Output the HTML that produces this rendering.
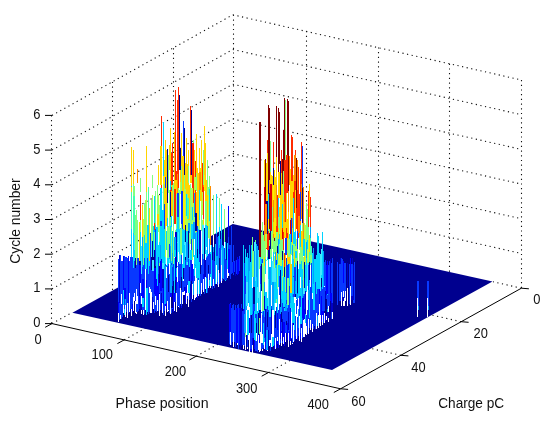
<!DOCTYPE html>
<html><head><meta charset="utf-8"><title>Plot</title><style>html,body{margin:0;padding:0;background:#fff}</style></head><body><svg width="550" height="427" viewBox="0 0 550 427" style="display:block">
<rect width="550" height="427" fill="#fff"/>
<path d="M52 288.9L232.8 188.3M232.8 188.3L521.4 253.5M52 254.2L232.8 153.6M232.8 153.6L521.4 218.8M52 219.5L232.8 118.9M232.8 118.9L521.4 184.1M52 184.8L232.8 84.2M232.8 84.2L521.4 149.4M52 150.1L232.8 49.5M232.8 49.5L521.4 114.7M52 115.4L232.8 14.8M232.8 14.8L521.4 80M51.5 115.4L51.5 323.6M112.5 81.9L112.5 290.1M173.5 48.3L173.5 256.5M233.5 14.8L233.5 223M306.5 31.1L306.5 239.3M378.5 47.4L378.5 255.6M449.5 63.7L449.5 271.9M521.5 80L521.5 288.2M124.2 339.9L305 239.3M196.3 356.2L377.1 255.6M268.5 372.5L449.3 271.9M52 323.6L71.5 312.8M400.9 355.3L112.3 290.1M461.1 321.7L172.5 256.5M521.4 288.2L493 281.8" fill="none" stroke="#111" stroke-width="1.1" stroke-dasharray="1.2 3.5"/>
<polygon points="72.4,312.7 332,370 492.5,281.5 232.8,224" fill="#00008f"/>
<g fill="none" stroke-width="1" shape-rendering="crispEdges"><path d="M118.5 258.9V301.7M119.5 303.2V314.6M119.5 314.6V319.8M120.5 255.2V306M121.5 260.9V293.9M121.5 303.5V318.8M122.5 260.9V317.1M124.5 256.2V287.9M124.5 298.8V309.4M125.5 257.1V295.9M126.5 257.1V302.5M126.5 302.5V311.6M128.5 302.5V312.8M129.5 260.8V291.9M129.5 291.9V292.9M130.5 256.9V288.1M130.5 288.1V308.6M131.5 261.4V265.5M131.5 289V295.3M132.5 256.9V303.8M133.5 268V292.5M133.5 292.5V296.9M134.5 260.9V283.5M135.5 267.6V281.7M135.5 281.7V299.6M136.5 265.3V288.9M136.5 303.7V312.1M137.5 258V276.4M137.5 284.7V295.9M138.5 258.2V310.9M140.5 268.2V277.6M140.5 293V304.1M141.5 273.8V293.4M142.5 266.8V279.3M142.5 306.9V310.4M143.5 265.2V279.2M143.5 290V304.8M144.5 258.3V286.9M144.5 286.9V297.6M144.5 297.6V310M144.5 310V314.1M146.5 257.5V279.5M147.5 274.4V284M147.5 284V292.3M148.5 254.3V266.2M148.5 266.2V292.8M148.5 292.8V314.1M149.5 265.6V286.8M150.5 233.2V289M151.5 270.4V291.9M152.5 270.7V296.5M153.5 262.6V278.6M153.5 278.6V301M153.5 301V302.2M154.5 294.2V304.7M154.5 304.7V313M155.5 228.9V265.8M156.5 286V312.3M157.5 264.2V273.9M158.5 257.3V268.3M158.5 282.9V292.5M158.5 292.5V310.7M160.5 220.9V226.4M160.5 290.6V310.1M161.5 274.3V293.1M162.5 288.3V303.3M163.5 258.9V267.7M163.5 267.7V279.8M163.5 303.6V314.7M164.5 203.7V229.1M164.5 304.2V310.5M165.5 176.5V187.7M165.5 263.9V275.4M166.5 278.3V293.2M166.5 293.2V302.9M167.5 265.8V287.4M167.5 287.4V301M168.5 243.7V256.6M168.5 263.7V275.2M168.5 292.1V309.5M169.5 274.4V302.3M169.5 302.3V313M171.5 263.4V285.5M171.5 308.3V312.5M172.5 266.8V286.3M172.5 286.3V309.1M173.5 263.8V280.5M175.5 292.6V301.7M176.5 241.6V260.8M176.5 289.9V292.5M177.5 192.5V216.6M177.5 282.1V305.7M178.5 261.9V281.3M179.5 263.8V287.5M179.5 287.5V308.1M181.5 190.8V224.1M181.5 255.1V263.7M181.5 263.7V276.7M181.5 290.1V306.1M182.5 192.8V229.3M182.5 280.7V292.2M183.5 121V185.4M184.5 260.2V286.5M185.5 259.6V278.5M186.5 265.2V265.3M186.5 265.2V267.2M186.5 267.2V275.7M186.5 275.7V285.1M187.5 265.2V282.2M187.5 296.3V299.1M188.5 258.9V280.6M189.5 281V299.7M190.5 259.7V283.5M191.5 238.7V263.9M191.5 297.9V301.6M192.5 281.2V283.6M193.5 268.5V283.3M194.5 275.5V281.2M197.5 226.3V248.5M198.5 266V280M199.5 253.9V261.5M200.5 274.2V296.3M201.5 264.8V282.5M202.5 254.1V290.1M203.5 259.1V273.9M204.5 276.9V294.3M206.5 258.2V277.7M207.5 255.8V285.5M207.5 285.5V292.6M208.5 253.8V264.5M208.5 272.8V273.7M209.5 252.9V279.6M210.5 254.4V274.1M212.5 259.5V289.3M213.5 252V268.8M213.5 268.8V279M214.5 261V288.2M216.5 234.2V256.3M217.5 281.6V284.6M219.5 247.8V258.3M219.5 273.1V284.1M220.5 239.2V280.7M222.5 277.7V281.4M224.5 248.4V259.4M224.5 259.4V279.9M226.5 260V280.3M227.5 268.6V269.2M228.5 236.9V248.9M229.5 245.4V275.6M230.5 273.9V279.1M231.5 225.5V273.5M233.5 245.2V275M234.5 261.3V271.7M236.5 260.3V274.3M239.5 256.2V270.6M229.5 331.9V344M230.5 302.5V332M231.5 307.7V344.7M232.5 304.7V338.4M232.5 338.4V342.2M233.5 304.3V333.4M234.5 309.8V341.9M235.5 304.9V347.4M237.5 304.9V327.3M238.5 303.5V335.7M238.5 335.7V348.5M241.5 304.2V346.1M242.5 311.2V345.3M244.5 262.7V313.8M244.5 333V346M245.5 275.9V294.4M247.5 335V347.3M250.5 314.6V333.4M250.5 333.4V349.2M252.5 313.7V338.1M253.5 303.6V311.4M254.5 307.2V308.3M255.5 313.8V317.8M255.5 340.9V350.7M256.5 307.8V322.7M257.5 335V352.3M260.5 266.3V283.8M260.5 316.2V330.2M260.5 330.2V331.7M261.5 311.6V312.6M261.5 343.3V348.5M262.5 255.9V263.4M262.5 315.2V333.6M263.5 310.2V323.1M263.5 344.8V348.4M264.5 317.1V337.9M266.5 306.3V311.9M266.5 311.9V329.9M267.5 326.7V336.4M268.5 309.6V330M269.5 317V339.7M270.5 306.9V309.1M270.5 342.9V350.9M271.5 305.5V326.4M274.5 314.5V344.7M275.5 327.8V338M276.5 260.2V272.2M276.5 307V319.5M276.5 319.5V340.8M277.5 330.1V336.6M278.5 309.5V343.5M279.5 243.6V244.3M279.5 276.3V294.6M279.5 304.1V319.3M279.5 329.9V330.4M280.5 338.8V342.6M281.5 321.7V331.2M282.5 302.8V318.5M282.5 340.8V343M283.5 307V322M284.5 310.8V325.5M285.5 237.8V255.4M285.5 310.9V325.3M285.5 325.3V332.5M286.5 258V293.1M286.5 300V320.7M287.5 265.3V277.7M287.5 307.9V323.2M288.5 264.2V267.9M288.5 285.8V311.6M288.5 330V332.6M289.5 302.8V330.5M290.5 335.3V336.4M291.5 218V241.7M291.5 338.4V339.1M292.5 137V167.9M292.5 322.8V342.6M293.5 275.5V296.8M294.5 267.2V280.7M294.5 329.9V340.8M295.5 316.3V336M296.5 300.4V314.2M297.5 230.5V248.6M297.5 293.1V305.7M297.5 316.5V337.8M298.5 327.9V335.8M299.5 295.6V306.8M299.5 306.8V316.2M300.5 192.4V220.8M300.5 324.2V332.5M301.5 289.7V300.2M301.5 300.2V321.6M302.5 146V187.6M302.5 317.7V337.6M303.5 296V317.5M304.5 287.6V309.3M306.5 315.2V325.7M307.5 310.3V332.8M308.5 264.8V290.3M308.5 300.3V308.7M308.5 308.7V319.4M309.5 317.5V328M310.5 287.4V312.7M310.5 312.7V320.2M311.5 245.7V298.9M311.5 298.9V323.8M312.5 309.1V317.2M313.5 310V328.7M314.5 305.2V318.5M315.5 281.6V304.2M315.5 304.2V329.1M316.5 293.7V313.4M317.5 289V315.5M318.5 289V312.2M319.5 253.3V285.9M320.5 290.8V313.1M320.5 313.1V315M321.5 286.7V296.2M322.5 289V300.9M322.5 300.9V311M323.5 286.7V310.6M323.5 310.6V322.7M324.5 262.4V285.9M325.5 260.2V290.5M326.5 295.1V309M328.5 265.2V305.8M329.5 261.4V288.2M331.5 263.1V290.9M331.5 290.9V302.9M331.5 311.5V318.6M332.5 257.7V289.5M332.5 289.5V305.1M337.5 262.4V305.3M339.5 263.9V301.3M341.5 257.9V292M342.5 259.2V296.9M343.5 283.3V290.9M344.5 262.5V298.1M345.5 262.5V290.5M345.5 290.5V290.5M349.5 263.7V303.6M351.5 263.8V296.3M353.5 264.5V302.6M354.5 262.3V303.3M417.5 281V298M418.5 281V306M427.5 281V298M428.5 281V306" stroke="#0838ff"/><path d="M118.5 301.7V312.5M123.5 255.5V290M124.5 287.9V298.8M127.5 258.4V289.8M128.5 256.4V302.5M132.5 303.8V311.5M135.5 299.6V300.8M139.5 264.8V283M139.5 295.5V309.3M141.5 293.4V295.7M142.5 279.3V298.3M146.5 279.5V287.9M154.5 268.2V294.2M155.5 279V295.9M157.5 273.9V299.5M160.5 261.4V290.6M161.5 258.8V274.3M163.5 279.8V303.6M165.5 290.4V305.7M166.5 302.9V309M170.5 293.4V296.8M173.5 290V311.6M174.5 292.7V301.9M175.5 268V280.4M176.5 276.7V289.9M178.5 281.3V288.3M181.5 306.1V308.3M185.5 278.5V302.6M186.5 285.1V293.4M191.5 263.9V281.1M195.5 297.5V298.6M197.5 293.5V297.5M203.5 273.9V278.5M220.5 280.7V281.6M228.5 206.3V236.9M228.5 248.9V273.1M232.5 261.6V272.8M237.5 257.4V274.9M238.5 259.1V273.6M229.5 304.1V331.9M236.5 308.3V343M239.5 308.2V345.1M243.5 308.9V335.8M249.5 318.4V332.7M250.5 349.2V351.2M251.5 340.2V351.4M252.5 338.1V345M253.5 311.4V336.2M254.5 340.1V349.2M259.5 333.9V343.2M265.5 336.9V350.2M274.5 344.7V348.6M276.5 340.8V347.7M277.5 312.8V330.1M278.5 343.5V348M280.5 313.7V338.8M281.5 331.2V333.2M283.5 322V336.8M284.5 325.5V345.7M287.5 323.2V340.4M289.5 330.5V341.4M290.5 308.2V335.3M295.5 336V338.5M297.5 337.8V339.7M300.5 332.5V338.8M302.5 298.3V317.7M303.5 317.5V319.8M304.5 309.3V319.2M311.5 323.8V328.2M318.5 312.2V315.3M319.5 285.9V303.7M321.5 296.2V322M322.5 311V315.4M325.5 316V321M326.5 265.1V295.1M327.5 260.6V294.3M329.5 288.2V301.4M330.5 292.9V302.5M343.5 260.5V283.3M350.5 257.7V283.3" stroke="#0000ff"/><path d="M118.5 312.5V322.1M120.5 306V318.6M121.5 293.9V303.5M123.5 305.1V312.6M125.5 305.2V316.9M127.5 289.8V306.8M127.5 306.8V317.5M129.5 292.9V311.5M131.5 265.5V289M131.5 295.3V315.6M133.5 296.9V311.2M134.5 283.5V301M135.5 300.8V313.4M136.5 288.9V303.7M136.5 312.1V314.4M137.5 182.8V220.4M137.5 295.9V312.2M140.5 192V194.5M140.5 261.4V268.2M140.5 277.6V293M141.5 295.7V314.3M143.5 279.2V290M143.5 304.8V315.2M145.5 268.5V291.5M145.5 291.5V310.1M147.5 292.3V312.2M149.5 286.8V291.6M149.5 291.6V311.7M150.5 289V313.2M151.5 291.9V312.9M152.5 187.9V194.8M153.5 302.2V309.2M155.5 295.9V311M157.5 252V264.2M157.5 299.5V311.3M158.5 184.6V194.6M158.5 232V244.9M158.5 268.3V282.9M159.5 294.2V294.8M159.5 294.8V315.6M160.5 184.6V187.5M161.5 222.7V239.4M162.5 303.3V313.4M163.5 220.3V223.3M165.5 305.7V316M166.5 189.6V190.6M166.5 192.6V231.1M166.5 250.2V264.6M166.5 266.9V278.3M167.5 301V311.8M168.5 193.4V226.4M168.5 309.5V310.5M169.5 170.1V189.7M169.5 262.9V274.4M170.5 296.8V314.4M172.5 192V230.5M174.5 223.5V236.5M174.5 256.7V258.3M174.5 301.9V311M175.5 218.2V230.2M176.5 292.5V311.8M177.5 261.7V265.6M177.5 266.5V282.1M178.5 251.8V261.9M178.5 288.3V307.2M179.5 170V189.5M180.5 194.1V227.7M180.5 262.1V264M180.5 264.9V292.3M180.5 292.3V303.7M182.5 253.2V264.2M182.5 292.2V303.6M183.5 279.3V295.2M184.5 291.3V303.1M186.5 293.4V304.4M187.5 282.2V296.3M188.5 293.4V306.5M190.5 182.6V184.4M190.5 224.5V249.7M191.5 182V188.2M192.5 259.6V281.2M192.5 283.6V299.1M193.5 256.6V268.5M194.5 232V255.3M194.5 281.2V300.1M195.5 267.8V297.5M196.5 191.3V191.9M196.5 278.3V296.7M198.5 280V295.9M200.5 200.8V232.8M201.5 230.8V264.8M201.5 282.5V293.5M202.5 192.4V220.4M203.5 278.5V292M204.5 191.3V227.9M205.5 253.8V275.3M205.5 275.3V288.7M206.5 229.8V250.1M208.5 237.8V253.8M208.5 273.7V288.2M210.5 244.6V251.6M210.5 276.6V288.3M213.5 235.3V246.8M213.5 279.1V286.4M216.5 265.2V284.2M218.5 269.6V287.1M221.5 264.5V282.5M224.5 242V248.4M227.5 269.2V278.3M228.5 273.1V276.2M230.5 332V344.5M233.5 333.4V347.1M237.5 327.3V344.8M243.5 335.8V348.9M245.5 336.8V350.1M246.5 309.6V322.1M246.5 322.1V335.3M247.5 305.7V309.9M247.5 347.3V348.6M248.5 303.2V313.4M248.5 324.5V340M249.5 307V318.4M249.5 332.7V352.3M252.5 276.6V287.6M252.5 345V352.8M256.5 332.7V351M257.5 303.2V311.4M258.5 335.2V350.3M259.5 269.3V291.8M259.5 343.2V351.8M260.5 310.7V313.2M260.5 331.7V351.3M261.5 291V311.6M261.5 312.6V343.3M262.5 333.6V350.8M263.5 272.8V296M264.5 341.5V348.8M265.5 273.9V292M266.5 248.7V259.8M266.5 261.1V306.3M267.5 202.2V230.5M267.5 260.2V298.3M267.5 336.4V350.7M268.5 232.6V244.9M269.5 256.6V267.1M269.5 339.7V346.4M270.5 259.2V299.2M270.5 333.8V342.9M271.5 199.7V229.6M271.5 285.4V305.5M271.5 334V347.1M272.5 249.3V261.2M272.5 309.6V337.2M273.5 309.3V334.1M273.5 334.1V346.2M274.5 253.9V255.9M275.5 298.8V311.1M275.5 338V349.4M276.5 302.7V303.2M276.5 302.7V307M277.5 336.6V344.3M278.5 287.3V309.5M279.5 164.2V206.5M279.5 294.6V304.1M279.5 319.3V329.9M279.5 330.4V345.2M281.5 333.2V346.1M283.5 336.8V344.2M284.5 238.4V253M285.5 332.5V342.1M286.5 245V258M287.5 183.8V218.6M287.5 304.7V305M288.5 332.6V347.4M289.5 184.8V233.5M289.5 249V260.4M290.5 336.4V345.3M291.5 255.2V268.1M291.5 296.5V306.6M291.5 311.7V338.4M292.5 342.6V343.9M293.5 325.4V342.4M294.5 212.8V234.9M294.5 280.7V302.5M295.5 296.9V316.3M296.5 228.8V239.3M296.5 298.7V300.4M296.5 314.2V321.1M296.5 321.1V339.3M297.5 305.7V316.5M298.5 238.4V255.3M298.5 255.3V268.5M298.5 297.8V309.4M299.5 249.8V253.1M299.5 316.2V332.1M299.5 332.1V341M300.5 277.2V288.1M301.5 218.7V230.7M301.5 327.9V341.5M303.5 256.2V266.3M303.5 319.8V337.1M304.5 319.2V337.2M305.5 322.6V333.7M306.5 292V315.2M306.5 325.7V335.3M307.5 286.1V310.3M308.5 319.4V334.3M309.5 216.7V235.1M310.5 262.8V263.2M310.5 265.4V287.4M310.5 320.2V330.3M312.5 292.5V309.1M312.5 320.1V332M314.5 318.5V326.2M316.5 313.4V329.4M318.5 315.3V327.6M319.5 303.7V323.2M320.5 315V325.7M322.5 315.4V324.9M324.5 285.9V304.2M324.5 312.7V323.4M326.5 309V320.4M328.5 305.8V321.8M330.5 302.5V319.4M332.5 305.1V318.6M341.5 292V305.7M343.5 290.9V306.1M344.5 298.1V305.5M345.5 290.5V300.6M347.5 287.7V305.6M350.5 286V305.4M417.5 298V317M427.5 298V317" stroke="#ffffff"/><path d="M119.5 255.3V303.2M128.5 312.8V315.1M137.5 276.4V284.7M139.5 283V295.5M140.5 304.1V309.8M152.5 296.5V312.7M161.5 293.1V311.9M162.5 268.8V288.3M175.5 231.6V268M184.5 286.5V291.3M189.5 266.7V281M190.5 283.5V298.7M199.5 229.9V253.9M200.5 232.8V264.8M203.5 226.2V242.1M204.5 260.3V276.9M213.5 279V279.1M230.5 245.1V273.9M235.5 260.1V276.4M240.5 307.6V348.5M259.5 309.6V318M263.5 296V310.2M265.5 309.4V336.9M268.5 330V346.7M270.5 309.1V333.8M282.5 318.5V340.8M284.5 294.8V307.6M288.5 311.6V330M293.5 296.8V325.4M301.5 321.6V327.9M304.5 277.7V287.6M305.5 291.4V314.2M312.5 317.2V320.1M325.5 290.5V299.1M327.5 311.7V318M330.5 259.4V292.9M331.5 302.9V311.5M340.5 257.5V300.5M342.5 296.9V300.5M347.5 263V287.7M351.5 296.3V300.2M352.5 257.7V300.4" stroke="#0000c8"/><path d="M123.5 290V305.1M124.5 309.4V314.7M131.5 185.7V187.2M131.5 228.7V260.6M133.5 232.8V268M134.5 250.1V260.9M140.5 231.5V261.4M142.5 298.3V306.9M144.5 234.9V258.3M145.5 243.4V268.5M146.5 223.8V257.5M146.5 287.9V314.5M147.5 225.4V274.4M148.5 228.5V254.3M149.5 261.4V265.6M152.5 230.7V234.3M153.5 225.8V256.7M154.5 195.7V222.5M155.5 224.9V228.9M156.5 226.7V286M157.5 227.7V252M158.5 244.9V257.3M159.5 242V263M160.5 187.5V220.9M160.5 226.4V244.9M161.5 205.6V219.4M161.5 239.4V258.8M162.5 209.7V262.9M163.5 122V176.3M163.5 223.3V238.6M164.5 229.1V265.5M166.5 231.1V250.2M167.5 217.6V227M167.5 257.5V265.8M168.5 256.6V261.7M168.5 261.7V263.7M169.5 225.9V245.8M170.5 180.5V189.6M170.5 263.3V265.4M171.5 216.3V226.5M171.5 260.7V261.3M171.5 261.4V263.4M172.5 230.5V252.7M174.5 250.2V256.7M174.5 258.3V292.7M176.5 229.2V241.6M176.5 260.8V276.7M177.5 216.6V231.8M177.5 243.1V261.7M179.5 229.3V253.9M180.5 228.3V229.2M180.5 264V264.9M182.5 229.3V253.2M182.5 264.2V280.7M183.5 244.8V262.7M183.5 262.7V267.9M184.5 225.2V242.4M184.5 256.9V260.2M185.5 220.3V225.3M186.5 193.7V216.1M186.5 230.6V242.4M186.5 262.2V265.2M186.5 265.3V264.9M188.5 233.1V254.9M188.5 280.6V293.4M189.5 258.9V266.7M190.5 249.7V259.7M191.5 224.2V238.7M192.5 202.8V219.6M193.5 239.2V256.6M194.5 255.3V264.6M194.5 264.6V264.3M194.5 265.2V275.5M195.5 265.9V267.8M196.5 232.3V245.4M196.5 245.4V265.9M196.5 265.9V278.3M197.5 258V277.7M198.5 229.4V266M199.5 189.8V219.9M199.5 261.5V294.1M203.5 242.1V259.1M205.5 224.9V247.2M205.5 247.2V253.8M206.5 277.7V292.8M207.5 252.8V255.8M209.5 188.7V220.9M209.5 279.6V286.2M210.5 251.6V254.4M210.5 274.1V276.6M211.5 244.5V285.8M215.5 244.2V283.7M216.5 194.3V234.2M219.5 227.1V244.8M221.5 203.8V232.5M221.5 247.5V250.1M225.5 241.7V281.1M227.5 242.9V268.6M243.5 244.8V287.2M243.5 287.2V308.9M245.5 248.7V275.9M246.5 256.6V281.6M247.5 252.5V305.7M247.5 309.9V335M249.5 270.9V307M250.5 261.5V314.6M251.5 245.3V277.7M251.5 293.3V311.8M254.5 281.3V307.2M254.5 308.3V340.1M255.5 277.2V313.8M255.5 317.8V340.9M256.5 286.6V306M256.5 306V305.4M257.5 245.6V279.6M258.5 297.7V312.9M260.5 257V266.3M262.5 311.1V312.1M263.5 323.1V344.8M265.5 259.3V273.9M265.5 292V309.4M267.5 257V260.2M267.5 298.3V308.5M268.5 194.3V219M268.5 258.9V278.6M268.5 305.9V309.6M269.5 306.3V317M271.5 255.5V255.4M271.5 255.4V255.3M271.5 256.9V285.4M272.5 337.2V346.8M273.5 252.2V261.8M274.5 281.7V292.5M274.5 292.5V303.4M274.5 313.4V314.5M275.5 265V298.8M277.5 253.4V263.9M277.5 289.4V312.8M278.5 198.2V216.9M278.5 265V287.3M279.5 230V243.9M279.5 257.6V276.3M280.5 265.6V270M281.5 265.4V298.7M282.5 203.7V227.7M282.5 259.7V276M282.5 290.9V302.8M283.5 277.1V307M284.5 307.6V310.8M285.5 291.9V303.8M286.5 242.4V245M287.5 305.1V307.9M288.5 267.9V285.8M289.5 233.5V249M289.5 260.4V295.5M290.5 237V254.1M290.5 292.8V308.2M291.5 268.1V296.5M292.5 255.8V276.9M292.5 276.9V293.7M292.5 297.1V322.8M293.5 198.4V231.8M293.5 231.8V244.4M293.5 258.9V275.5M294.5 302.5V329.9M295.5 231.3V246.2M295.5 251.1V258.4M295.5 263V280M296.5 264.5V294.1M298.5 268.5V297.8M299.5 224.8V236.8M299.5 263.6V295.6M300.5 231.4V247M300.5 261.1V277.2M300.5 288.1V324.2M301.5 260.3V289.7M302.5 240.7V256.6M302.5 269.4V280.2M303.5 238.5V256.2M305.5 264.6V291.4M305.5 314.2V322.6M306.5 258.3V268.2M306.5 268.2V292M307.5 239.8V248.8M308.5 252.4V264.8M309.5 283.4V317.5M312.5 253.1V292.5M313.5 283.5V310M314.5 258.9V305.2M315.5 259.2V281.6M316.5 254.9V293.7M317.5 233V289M318.5 236V289M321.5 275V278.3M322.5 232V289M327.5 294.3V311.7" stroke="#00d4ff"/><path d="M125.5 295.9V305.2M130.5 308.6V309.3M131.5 260.6V261.4M142.5 236.9V266.8M154.5 230.2V232.3M160.5 244.9V261.4M164.5 265.5V304.2M166.5 264.6V266.9M169.5 245.8V259.3M170.5 228.9V263.3M170.5 265.4V293.4M171.5 261.3V261.4M172.5 252.7V266.8M174.5 236.5V250.2M177.5 265.6V266.5M186.5 242.4V262.2M186.5 264.9V265.2M188.5 223V233.1M188.5 254.9V258.9M193.5 222.4V239.2M193.5 283.3V295.3M194.5 192.8V232M194.5 264.3V265.2M195.5 233.4V265.9M197.5 277.7V293.5M206.5 256.5V258.2M207.5 226V252.8M209.5 238.8V252.9M213.5 246.8V252M216.5 256.3V265.2M217.5 237.2V281.6M218.5 236.1V269.6M219.5 244.8V247.8M221.5 232.5V247.5M222.5 244.5V277.7M223.5 245.8V278.9M244.5 313.8V333M245.5 294.4V314.8M246.5 306.1V309.6M248.5 257.7V303.2M248.5 313.8V324.5M249.5 245.3V270.9M252.5 287.6V313.7M253.5 250.9V286.6M256.5 244.3V286.6M256.5 305.9V307.8M257.5 311.4V335M260.5 283.8V310.7M261.5 259V263.9M262.5 312.1V315.2M264.5 281.8V317.1M264.5 337.9V341.5M266.5 329.9V350M269.5 267.1V306.3M270.5 299.2V306.9M272.5 282.1V309.6M273.5 260.8V262.4M273.5 299.4V309.3M275.5 252.3V265M276.5 272.2V288.6M278.5 236.8V254.1M280.5 306.9V313.7M281.5 298.7V311.6M285.5 303.8V310.9M286.5 293.1V300M287.5 304.8V304.7M287.5 305V305.1M289.5 295.5V302.8M292.5 245.1V255.8M292.5 293.7V297.1M293.5 244.4V244.2M295.5 280V294.4M296.5 294.1V298.7M298.5 309.4V327.9M302.5 280.2V298.3M303.5 293.7V296M306.5 241.6V258.3M308.5 290.3V300.3M309.5 279.7V283.4M310.5 226.6V238M313.5 247.5V283.5M317.5 315.5V326.3M323.5 250.9V286.7M418.5 306V310M428.5 306V310" stroke="#00a0ff"/><path d="M131.5 147V185.7M131.5 187.2V191.8M133.5 150V184.2M137.5 170V169.2M139.5 222.4V260.6M142.5 204.6V236.9M146.5 146V191.6M149.5 208.4V261.4M157.5 213.9V224.9M158.5 165V184.6M160.5 145.8V184.6M161.5 188.6V205.6M164.5 159.5V203.7M165.5 140V176.5M165.5 187.7V225.5M166.5 150V189.6M169.5 144.6V170.1M170.5 128V180.5M170.5 189.6V189.6M171.5 184.6V186.7M171.5 191.3V216.3M174.5 132V189.2M175.5 180V193.6M180.5 148.2V182.4M181.5 133V166.3M182.5 155.7V192.8M183.5 185.4V192.3M185.5 163.3V198.5M186.5 138V193.7M188.5 150V166.1M188.5 183.2V220.4M190.5 174.7V182.8M193.5 170.3V182.5M194.5 150V177.4M196.5 134V173.4M196.5 191.9V232.3M197.5 167.6V226.3M199.5 148V171.9M200.5 167.7V200.8M201.5 140V181.1M203.5 219.4V223.8M204.5 126V175.4M205.5 142.8V201.3M206.5 179.5V229.8M207.5 194.8V226M264.5 160V187.2M264.5 257.3V266.1M266.5 162.7V201.4M267.5 153.3V202.2M270.5 166.7V184.3M271.5 174.8V199.7M272.5 175.6V207M273.5 222.2V233.7M274.5 169.8V217.7M274.5 237.4V237.8M275.5 177.3V224.9M275.5 233.6V236.1M276.5 156.8V184.9M276.5 246.2V260.2M277.5 227.6V238.7M278.5 172.3V198.2M279.5 206.5V230M280.5 195.1V240.1M281.5 173.2V211.4M282.5 184.2V203.7M283.5 200.3V232.1M284.5 221.6V238.4M285.5 221.8V237.8M285.5 255.4V265.6M286.5 192.9V228M287.5 218.6V232.5M287.5 238.1V250.1M287.5 253.1V261.4M288.5 211.5V239.2M288.5 256.9V264.4M290.5 168.6V220.3M290.5 263.8V292.8M291.5 180.6V218M292.5 167.9V192.2M292.5 228.1V242.6M294.5 234.9V237.1M294.5 252.1V267.2M295.5 190V231.3M297.5 160V160.1M301.5 230.7V249.8M304.5 254.7V262.1M309.5 184.3V216.7M309.5 235.1V252.4M310.5 263.2V263" stroke="#ffd400"/><path d="M131.5 191.8V228.7M133.5 195.6V232.8M148.5 187.4V228.5M173.5 218.6V225.7M187.5 198.4V219.1M281.5 250.8V252.1M309.5 252.4V261.8M310.5 238V255.2M310.5 263V265.4" stroke="#40ffb0"/><path d="M133.5 184.2V195.6M134.5 186.2V235M135.5 215.3V257.7M136.5 209.7V265.3M137.5 220.4V258M140.5 178V192M140.5 220V231.5M143.5 246.6V265.2M144.5 203.1V234.9M146.5 191.6V214.2M151.5 199.6V241M152.5 175V187.9M152.5 218.1V230.7M154.5 232.3V249.6M155.5 190.7V224.9M157.5 185.4V213.9M159.5 204.5V242M159.5 263V265.6M161.5 219.4V222.7M163.5 184.1V220.3M163.5 238.6V258.9M166.5 190.6V192.6M167.5 227V257.5M168.5 155V193.4M168.5 226.4V243.7M169.5 189.7V225.9M170.5 217.3V228.9M171.5 226.5V260.7M172.5 183.7V192M173.5 182.9V218.6M173.5 225.7V227.1M173.5 227.1V263.8M175.5 230.2V231.6M176.5 171.4V229.2M178.5 187.5V225.1M179.5 189.5V229.3M180.5 227.7V228.3M180.5 229.2V262.1M181.5 166.3V190.8M181.5 224.1V225.8M181.5 225.8V255.1M183.5 230.2V244.8M184.5 174.7V189M185.5 198.5V220.3M187.5 164.2V198.4M188.5 166.1V183.2M188.5 220.4V223M189.5 185.4V244.1M190.5 184.4V215.7M190.5 215.7V224.5M191.5 206.7V224.2M192.5 219.6V221.3M193.5 140V170.3M193.5 217.1V222.4M195.5 230.6V233.4M196.5 173.4V191.3M198.5 173.3V229.4M199.5 219.9V229.9M201.5 215.1V230.8M202.5 220.4V224.7M203.5 150V185.1M203.5 223.8V223.8M205.5 201.3V224.9M207.5 160V194.8M209.5 176V188.7M209.5 220.9V222.1M209.5 222.9V238.8M213.5 195.2V235.3M219.5 198V227.1M224.5 208.9V242M245.5 314.8V336.8M248.5 313.4V313.8M252.5 237.3V276.6M255.5 239.5V277.2M259.5 257V269.3M259.5 318V333.9M261.5 232.2V259M262.5 221.5V255.9M262.5 263.4V311.1M263.5 235.1V272.8M264.5 240.5V257.3M264.5 266.1V281.8M265.5 247.6V259.3M266.5 259.8V261.1M267.5 249.9V257M268.5 229.1V232.6M268.5 244.9V245.6M269.5 108V172.3M269.5 240.3V256.6M270.5 248.5V259.2M271.5 229.6V244.9M271.5 244.9V255.5M271.5 255.3V256.9M272.5 207V233.4M272.5 246.4V249.3M273.5 237.7V252.2M273.5 261.8V260.8M273.5 262.4V299.4M274.5 241.3V253.9M275.5 236.1V252.3M276.5 232.2V246.2M276.5 288.6V302.7M277.5 263.9V289.4M278.5 216.9V234.4M279.5 243.9V243.6M279.5 244.3V257.6M280.5 240.1V257.1M281.5 238.7V250.8M281.5 252.1V265.4M282.5 276V290.9M283.5 171.1V200.3M283.5 249.6V260.2M285.5 100V190.4M285.5 265.6V291.9M287.5 250.1V253.1M287.5 261.4V265.3M287.5 277.7V304.8M288.5 239.2V256.9M288.5 264.4V264.2M290.5 262.7V263.8M291.5 241.7V255.2M293.5 244.9V258.9M294.5 237.1V252.1M295.5 246.2V251.1M295.5 258.4V263M296.5 251V251.1M296.5 255.1V264.5M297.5 248.6V261.3M299.5 193.9V224.8M299.5 236.8V250.1M299.5 253.1V263.6M300.5 247V261.1M301.5 249.8V260.3M302.5 223.3V240.7M302.5 256.6V269.4M303.5 266.3V266.5M303.5 266.5V287.8M306.5 202.5V241.6M307.5 208.8V239.8M307.5 248.8V250M308.5 227V238.5M310.5 255.2V263.2M310.5 263.2V262.8" stroke="#80ff80"/><path d="M134.5 235V250.1M141.5 245.8V273.8M151.5 241V257.3M152.5 259.5V270.7M153.5 260.2V262.6M162.5 262.9V268.8M165.5 256.5V263.9M169.5 259.3V262.9M177.5 231.8V243.1M178.5 225.1V251.8M179.5 253.9V263.8M184.5 242.4V256.9M187.5 258.1V265.2M189.5 244.1V258.9M202.5 224.7V254.1M206.5 250.1V256.5M221.5 250.1V264.5M246.5 281.6V306.1M251.5 277.7V293.3M254.5 241.9V281.3M257.5 279.6V303.2M258.5 249.8V297.7M259.5 291.8V309.6M268.5 278.6V305.9M272.5 261.2V282.1M274.5 268.3V281.7M274.5 303.4V313.4M276.5 303.2V302.7M291.5 306.6V311.7M303.5 287.8V293.7M307.5 262.8V286.1M320.5 254V290.8M321.5 248.5V275" stroke="#40e8ff"/><path d="M134.5 301V314.3M135.5 257.7V267.6M139.5 260.6V264.8M151.5 257.3V270.4M152.5 234.3V259.5M153.5 256.7V260.2M154.5 249.6V268.2M155.5 265.8V279M159.5 265.6V294.2M165.5 275.4V290.4M167.5 149.2V203.2M168.5 275.2V292.1M170.5 191.5V217.3M171.5 285.5V308.3M173.5 280.5V290M175.5 193.6V218.2M175.5 280.4V292.6M175.5 301.7V307.1M179.5 95V170M181.5 276.7V290.1M183.5 267.9V279.3M183.5 295.2V307.4M184.5 128V174.7M185.5 225.3V259.6M187.5 230.8V258.1M191.5 110V182M191.5 281.1V297.9M193.5 295.3V296.3M195.5 213V230.6M197.5 248.5V258M200.5 264.8V274.2M204.5 227.9V260.3M208.5 264.5V272.8M219.5 258.3V273.1M224.5 279.9V282.7M246.5 335.3V348.7M248.5 340V351.3M251.5 311.8V340.2M253.5 286.6V303.6M253.5 336.2V350.5M256.5 305.4V305.9M256.5 322.7V332.7M258.5 312.9V335.2M260.5 313.2V316.2M261.5 263.9V291M266.5 201.4V233.5M267.5 308.5V326.7M268.5 179.6V194.3M268.5 245.6V258.9M270.5 231.1V248.5M271.5 326.4V334M273.5 168.2V185.2M275.5 311.1V327.8M277.5 238.7V253.4M278.5 234.4V236.8M280.5 161.2V195.1M280.5 270V306.9M281.5 311.6V321.7M282.5 248.5V259.7M284.5 266.7V294.8M286.5 320.7V342.2M295.5 294.4V296.9M297.5 261.3V293.1M302.5 187.6V223.3M304.5 262.1V277.7M309.5 261.8V279.7M321.5 278.3V286.7M324.5 304.2V312.7M325.5 299.1V316M329.5 301.4V318.5M350.5 283.3V286" stroke="#00008f"/><path d="M137.5 169.2V182.8M177.5 174V192.5M199.5 171.9V189.8M203.5 185.1V186.9M210.5 185.9V244.6M264.5 225V240.5M265.5 204V233.8M269.5 172.3V193.4M273.5 199.5V222.2M273.5 233.7V237.7M275.5 224.9V233.6M276.5 184.9V225.9M284.5 202.4V221.6M288.5 190.8V211.5M289.5 155.8V184.8M292.5 192.2V228.1M294.5 154.6V180.8M297.5 160.1V190.4M298.5 215.9V233.1M300.5 220.8V231.4M301.5 183.6V218.7M303.5 187.2V238.5" stroke="#ff8c00"/><path d="M140.5 194.5V220M154.5 222.5V230.2M161.5 116V188.6M170.5 189.6V191.5M171.5 153.1V184.6M171.5 186.7V191.3M172.5 143V183.7M174.5 189.2V223.5M175.5 90V180M177.5 100V174M178.5 87V187.5M190.5 106V174.7M190.5 182.8V182.6M192.5 143V202.8M195.5 161.1V213M201.5 181.1V191.8M202.5 163.3V192.4M203.5 186.9V219.4M266.5 233.5V248.7M267.5 140V153.3M267.5 230.5V249.9M270.5 141V166.7M273.5 142V168.2M276.5 225.9V232.2M277.5 195.1V227.6M281.5 150V173.2M281.5 211.4V238.7M282.5 227.7V229.5M283.5 232.1V249.6M284.5 160.4V202.4M284.5 253V266.7M285.5 190.4V221.8M286.5 155V192.9M286.5 228V242.4M287.5 232.5V238.1M291.5 135V180.6M293.5 174.5V198.4M294.5 180.8V212.8M295.5 150V190M296.5 207.5V228.8M297.5 190.4V223.4M297.5 223.4V230.5M298.5 167.4V215.9M298.5 233.1V238.4M300.5 168.8V192.4M301.5 142V183.6M308.5 190.6V227M310.5 197.1V226.6" stroke="#ff2b00"/><path d="M143.5 219.3V246.6M145.5 199.9V243.4M146.5 214.2V223.8M152.5 194.8V218.1M157.5 224.9V227.7M158.5 194.6V232M165.5 225.5V256.5M167.5 203.2V217.6M180.5 182.4V194.1M184.5 189V225.2M186.5 216.1V230.6M187.5 219.1V230.8M191.5 188.2V206.7M192.5 221.3V259.6M193.5 182.5V217.1M194.5 177.4V190M201.5 191.8V215.1M203.5 223.8V226.2M208.5 186.9V237.8M209.5 222.1V222.9M265.5 233.8V247.6M272.5 233.4V246.4M274.5 255.9V268.3M278.5 254.1V265M280.5 257.1V265.6M283.5 260.2V277.1M290.5 254.1V262.7M292.5 242.6V245.1M293.5 244.2V244.9M296.5 239.3V251M296.5 251.1V255.1M299.5 250.1V249.8M304.5 223.2V254.7M305.5 224.5V264.6M307.5 250V262.8M308.5 238.5V252.4" stroke="#b4ff4b"/><path d="M163.5 176.3V184.1M183.5 192.3V230.2M194.5 190V192.8M204.5 175.4V191.3M268.5 219V229.1M273.5 185.2V199.5M274.5 217.7V237.4" stroke="#ffee00"/><path d="M259.5 122V257M260.5 122V257M265.5 159.1V204M268.5 105V179.6M269.5 193.4V240.3M274.5 237.8V241.3M276.5 106V156.8M278.5 108V172.3M279.5 112V164.2M282.5 158.7V184.2M283.5 130V171.1M284.5 98V160.4M287.5 99V183.8M288.5 101V190.8M296.5 158V207.5" stroke="#800000"/><path d="M264.5 187.2V225M270.5 184.3V231.1M282.5 229.5V248.5M290.5 220.3V237" stroke="#e00000"/><path d="M120.5 303.2V314.6" stroke="#0838ff"/><path d="M122.5 260.9V293.9" stroke="#0838ff"/><path d="M122.5 303.5V317.1" stroke="#0838ff"/><path d="M125.5 287.9V298.8" stroke="#0000ff"/><path d="M127.5 258.4V302.5" stroke="#0838ff"/><path d="M130.5 260.8V291.9" stroke="#0838ff"/><path d="M131.5 256.9V288.1" stroke="#0838ff"/><path d="M131.5 288.1V308.6" stroke="#0838ff"/><path d="M132.5 261.4V265.5" stroke="#0838ff"/><path d="M132.5 289V295.3" stroke="#0838ff"/><path d="M134.5 195.6V232.8" stroke="#40ffb0"/><path d="M134.5 268V292.5" stroke="#0838ff"/><path d="M135.5 215.3V235" stroke="#80ff80"/><path d="M137.5 265.3V288.9" stroke="#0838ff"/><path d="M137.5 303.7V312.1" stroke="#0838ff"/><path d="M140.5 260.6V264.8" stroke="#00008f"/><path d="M140.5 264.8V283" stroke="#0000ff"/><path d="M141.5 304.1V309.8" stroke="#0000c8"/><path d="M143.5 279.3V298.3" stroke="#0000ff"/><path d="M143.5 298.3V306.9" stroke="#00d4ff"/><path d="M143.5 306.9V310.4" stroke="#0838ff"/><path d="M145.5 203.1V234.9" stroke="#80ff80"/><path d="M146.5 199.9V243.4" stroke="#b4ff4b"/><path d="M146.5 243.4V268.5" stroke="#00d4ff"/><path d="M147.5 257.5V279.5" stroke="#0838ff"/><path d="M147.5 287.9V312.2" stroke="#00d4ff"/><path d="M148.5 225.4V274.4" stroke="#00d4ff"/><path d="M148.5 284V292.3" stroke="#0838ff"/><path d="M149.5 292.8V311.7" stroke="#0838ff"/><path d="M152.5 199.6V241" stroke="#80ff80"/><path d="M153.5 230.7V234.3" stroke="#00d4ff"/><path d="M153.5 259.5V270.7" stroke="#40e8ff"/><path d="M153.5 270.7V296.5" stroke="#0838ff"/><path d="M154.5 256.7V260.2" stroke="#00008f"/><path d="M155.5 268.2V294.2" stroke="#0000ff"/><path d="M155.5 304.7V311" stroke="#0838ff"/><path d="M156.5 279V295.9" stroke="#0000ff"/><path d="M157.5 226.7V286" stroke="#00d4ff"/><path d="M158.5 213.9V224.9" stroke="#ffd400"/><path d="M158.5 264.2V273.9" stroke="#0838ff"/><path d="M158.5 273.9V299.5" stroke="#0000ff"/><path d="M159.5 282.9V292.5" stroke="#0838ff"/><path d="M161.5 145.8V184.6" stroke="#ffd400"/><path d="M161.5 187.5V220.9" stroke="#00d4ff"/><path d="M161.5 220.9V226.4" stroke="#0838ff"/><path d="M161.5 226.4V244.9" stroke="#00d4ff"/><path d="M161.5 261.4V290.6" stroke="#0000ff"/><path d="M162.5 239.4V258.8" stroke="#00d4ff"/><path d="M163.5 209.7V262.9" stroke="#00d4ff"/><path d="M163.5 262.9V268.8" stroke="#40e8ff"/><path d="M163.5 268.8V288.3" stroke="#0000c8"/><path d="M164.5 176.3V184.1" stroke="#ffee00"/><path d="M165.5 265.5V304.2" stroke="#00a0ff"/><path d="M166.5 150V176.5" stroke="#ffd400"/><path d="M166.5 187.7V225.5" stroke="#ffd400"/><path d="M168.5 227V257.5" stroke="#80ff80"/><path d="M169.5 226.4V243.7" stroke="#80ff80"/><path d="M169.5 243.7V256.6" stroke="#0838ff"/><path d="M169.5 292.1V309.5" stroke="#0838ff"/><path d="M170.5 225.9V245.8" stroke="#00d4ff"/><path d="M171.5 265.4V293.4" stroke="#00a0ff"/><path d="M171.5 293.4V296.8" stroke="#0000ff"/><path d="M172.5 153.1V184.6" stroke="#ff2b00"/><path d="M172.5 191.3V216.3" stroke="#ffd400"/><path d="M172.5 285.5V308.3" stroke="#00008f"/><path d="M175.5 189.2V223.5" stroke="#ff2b00"/><path d="M175.5 236.5V250.2" stroke="#00a0ff"/><path d="M175.5 250.2V256.7" stroke="#00d4ff"/><path d="M176.5 171.4V180" stroke="#ff2b00"/><path d="M176.5 180V193.6" stroke="#ffd400"/><path d="M176.5 231.6V268" stroke="#0000c8"/><path d="M177.5 229.2V241.6" stroke="#00d4ff"/><path d="M178.5 192.5V216.6" stroke="#0838ff"/><path d="M178.5 216.6V231.8" stroke="#00d4ff"/><path d="M178.5 282.1V305.7" stroke="#0838ff"/><path d="M179.5 281.3V288.3" stroke="#0000ff"/><path d="M180.5 148.2V170" stroke="#00008f"/><path d="M180.5 253.9V263.8" stroke="#40e8ff"/><path d="M180.5 263.8V287.5" stroke="#0838ff"/><path d="M182.5 190.8V224.1" stroke="#0838ff"/><path d="M183.5 155.7V192.8" stroke="#ffd400"/><path d="M183.5 229.3V253.2" stroke="#00d4ff"/><path d="M183.5 280.7V292.2" stroke="#0838ff"/><path d="M184.5 192.3V230.2" stroke="#ffee00"/><path d="M184.5 244.8V262.7" stroke="#00d4ff"/><path d="M184.5 262.7V267.9" stroke="#00d4ff"/><path d="M184.5 295.2V303.1" stroke="#00008f"/><path d="M185.5 189V225.2" stroke="#b4ff4b"/><path d="M185.5 242.4V256.9" stroke="#40e8ff"/><path d="M185.5 260.2V286.5" stroke="#0838ff"/><path d="M187.5 164.2V193.7" stroke="#ffd400"/><path d="M187.5 230.6V242.4" stroke="#00d4ff"/><path d="M187.5 242.4V262.2" stroke="#00a0ff"/><path d="M187.5 275.7V285.1" stroke="#0838ff"/><path d="M188.5 198.4V219.1" stroke="#40ffb0"/><path d="M188.5 230.8V258.1" stroke="#00008f"/><path d="M189.5 185.4V220.4" stroke="#ffd400"/><path d="M189.5 223V233.1" stroke="#00a0ff"/><path d="M189.5 280.6V293.4" stroke="#00d4ff"/><path d="M190.5 185.4V244.1" stroke="#80ff80"/><path d="M191.5 174.7V182.8" stroke="#ffd400"/><path d="M191.5 249.7V259.7" stroke="#00d4ff"/><path d="M191.5 283.5V298.7" stroke="#0000c8"/><path d="M192.5 188.2V206.7" stroke="#b4ff4b"/><path d="M192.5 224.2V238.7" stroke="#00d4ff"/><path d="M192.5 263.9V281.1" stroke="#0000ff"/><path d="M193.5 143V202.8" stroke="#ff2b00"/><path d="M194.5 217.1V222.4" stroke="#80ff80"/><path d="M194.5 222.4V239.2" stroke="#00a0ff"/><path d="M195.5 177.4V190" stroke="#b4ff4b"/><path d="M195.5 255.3V264.6" stroke="#00d4ff"/><path d="M196.5 213V230.6" stroke="#00008f"/><path d="M198.5 173.3V226.3" stroke="#ffd400"/><path d="M198.5 258V277.7" stroke="#00d4ff"/><path d="M200.5 167.7V171.9" stroke="#ffd400"/><path d="M200.5 171.9V189.8" stroke="#ff8c00"/><path d="M200.5 229.9V253.9" stroke="#0000c8"/><path d="M201.5 167.7V200.8" stroke="#ffd400"/><path d="M202.5 191.8V215.1" stroke="#b4ff4b"/><path d="M202.5 264.8V282.5" stroke="#0838ff"/><path d="M203.5 224.7V254.1" stroke="#40e8ff"/><path d="M205.5 260.3V276.9" stroke="#0000c8"/><path d="M206.5 201.3V224.9" stroke="#80ff80"/><path d="M206.5 224.9V247.2" stroke="#00d4ff"/><path d="M208.5 186.9V194.8" stroke="#80ff80"/><path d="M209.5 253.8V264.5" stroke="#0838ff"/><path d="M217.5 237.2V256.3" stroke="#0838ff"/><path d="M220.5 247.8V258.3" stroke="#0838ff"/><path d="M225.5 259.4V279.9" stroke="#0838ff"/><path d="M229.5 248.9V273.1" stroke="#0000ff"/><path d="M230.5 245.4V275.6" stroke="#0838ff"/><path d="M232.5 261.6V272.8" stroke="#0838ff"/><path d="M233.5 261.6V272.8" stroke="#0000ff"/><path d="M230.5 304.1V331.9" stroke="#0000ff"/><path d="M235.5 309.8V341.9" stroke="#0838ff"/><path d="M237.5 308.3V343" stroke="#0000ff"/><path d="M241.5 307.6V346.1" stroke="#0000c8"/><path d="M242.5 311.2V345.3" stroke="#0838ff"/><path d="M243.5 311.2V345.3" stroke="#0838ff"/><path d="M245.5 313.8V333" stroke="#00a0ff"/><path d="M247.5 281.6V306.1" stroke="#40e8ff"/><path d="M248.5 309.9V335" stroke="#00d4ff"/><path d="M250.5 270.9V307" stroke="#00d4ff"/><path d="M251.5 261.5V314.6" stroke="#00d4ff"/><path d="M251.5 333.4V349.2" stroke="#0838ff"/><path d="M253.5 250.9V276.6" stroke="#80ff80"/><path d="M253.5 313.7V338.1" stroke="#0838ff"/><path d="M254.5 250.9V286.6" stroke="#00a0ff"/><path d="M254.5 286.6V303.6" stroke="#00008f"/><path d="M254.5 303.6V311.4" stroke="#0838ff"/><path d="M255.5 241.9V281.3" stroke="#40e8ff"/><path d="M255.5 281.3V307.2" stroke="#00d4ff"/><path d="M256.5 277.2V313.8" stroke="#00d4ff"/><path d="M256.5 313.8V317.8" stroke="#0838ff"/><path d="M256.5 340.9V350.7" stroke="#0838ff"/><path d="M257.5 245.6V286.6" stroke="#00a0ff"/><path d="M260.5 309.6V318" stroke="#0000c8"/><path d="M262.5 232.2V259" stroke="#80ff80"/><path d="M262.5 343.3V348.5" stroke="#0838ff"/><path d="M263.5 263.4V311.1" stroke="#80ff80"/><path d="M264.5 296V310.2" stroke="#0000c8"/><path d="M266.5 204V233.8" stroke="#ff8c00"/><path d="M266.5 233.8V247.6" stroke="#b4ff4b"/><path d="M266.5 292V309.4" stroke="#00d4ff"/><path d="M267.5 162.7V201.4" stroke="#ffd400"/><path d="M267.5 201.4V233.5" stroke="#00008f"/><path d="M267.5 306.3V311.9" stroke="#0838ff"/><path d="M267.5 329.9V350" stroke="#00a0ff"/><path d="M268.5 230.5V249.9" stroke="#ff2b00"/><path d="M269.5 108V179.6" stroke="#800000"/><path d="M269.5 229.1V232.6" stroke="#80ff80"/><path d="M269.5 245.6V258.9" stroke="#00008f"/><path d="M270.5 141V172.3" stroke="#80ff80"/><path d="M270.5 267.1V306.3" stroke="#00a0ff"/><path d="M270.5 306.3V317" stroke="#00d4ff"/><path d="M270.5 317V339.7" stroke="#0838ff"/><path d="M271.5 174.8V184.3" stroke="#ffd400"/><path d="M271.5 184.3V231.1" stroke="#e00000"/><path d="M271.5 309.1V333.8" stroke="#0000c8"/><path d="M273.5 261.2V282.1" stroke="#40e8ff"/><path d="M273.5 282.1V309.6" stroke="#00a0ff"/><path d="M273.5 337.2V346.2" stroke="#00d4ff"/><path d="M275.5 217.7V237.4" stroke="#ffee00"/><path d="M275.5 268.3V281.7" stroke="#40e8ff"/><path d="M275.5 292.5V303.4" stroke="#00d4ff"/><path d="M276.5 236.1V252.3" stroke="#80ff80"/><path d="M276.5 265V298.8" stroke="#00d4ff"/><path d="M277.5 225.9V232.2" stroke="#ff2b00"/><path d="M277.5 232.2V246.2" stroke="#80ff80"/><path d="M277.5 340.8V344.3" stroke="#0000ff"/><path d="M278.5 227.6V238.7" stroke="#ffd400"/><path d="M279.5 172.3V198.2" stroke="#ffd400"/><path d="M279.5 216.9V234.4" stroke="#80ff80"/><path d="M279.5 254.1V265" stroke="#b4ff4b"/><path d="M281.5 195.1V240.1" stroke="#ffd400"/><path d="M281.5 257.1V265.6" stroke="#b4ff4b"/><path d="M281.5 265.6V270" stroke="#00d4ff"/><path d="M282.5 238.7V250.8" stroke="#80ff80"/><path d="M284.5 277.1V307" stroke="#00d4ff"/><path d="M284.5 322V336.8" stroke="#0000ff"/><path d="M285.5 160.4V202.4" stroke="#ff2b00"/><path d="M285.5 221.6V238.4" stroke="#ffd400"/><path d="M286.5 237.8V255.4" stroke="#0838ff"/><path d="M286.5 303.8V310.9" stroke="#00a0ff"/><path d="M286.5 325.3V332.5" stroke="#0838ff"/><path d="M287.5 155V192.9" stroke="#ff2b00"/><path d="M288.5 265.3V277.7" stroke="#0838ff"/><path d="M288.5 277.7V304.8" stroke="#80ff80"/><path d="M289.5 239.2V256.9" stroke="#80ff80"/><path d="M289.5 256.9V264.4" stroke="#ffd400"/><path d="M289.5 285.8V311.6" stroke="#0838ff"/><path d="M290.5 233.5V249" stroke="#00d4ff"/><path d="M290.5 295.5V302.8" stroke="#00a0ff"/><path d="M290.5 330.5V341.4" stroke="#0000ff"/><path d="M291.5 263.8V292.8" stroke="#ffd400"/><path d="M291.5 292.8V308.2" stroke="#00d4ff"/><path d="M292.5 137V180.6" stroke="#ff2b00"/><path d="M292.5 180.6V218" stroke="#ffd400"/><path d="M293.5 174.5V192.2" stroke="#ffd400"/><path d="M293.5 276.9V293.7" stroke="#00d4ff"/><path d="M293.5 297.1V322.8" stroke="#00d4ff"/><path d="M294.5 231.8V244.4" stroke="#00d4ff"/><path d="M294.5 275.5V296.8" stroke="#0838ff"/><path d="M295.5 154.6V180.8" stroke="#ff8c00"/><path d="M295.5 267.2V280.7" stroke="#0838ff"/><path d="M296.5 251.1V258.4" stroke="#00d4ff"/><path d="M297.5 294.1V298.7" stroke="#00a0ff"/><path d="M299.5 193.9V215.9" stroke="#ff2b00"/><path d="M299.5 215.9V233.1" stroke="#ff8c00"/><path d="M300.5 224.8V236.8" stroke="#00d4ff"/><path d="M300.5 253.1V263.6" stroke="#80ff80"/><path d="M300.5 295.6V306.8" stroke="#0838ff"/><path d="M301.5 247V261.1" stroke="#80ff80"/><path d="M301.5 261.1V277.2" stroke="#00d4ff"/><path d="M301.5 288.1V324.2" stroke="#00d4ff"/><path d="M302.5 230.7V249.8" stroke="#ffd400"/><path d="M302.5 249.8V260.3" stroke="#80ff80"/><path d="M303.5 256.6V269.4" stroke="#80ff80"/><path d="M303.5 298.3V317.7" stroke="#0000ff"/><path d="M304.5 238.5V256.2" stroke="#00d4ff"/><path d="M304.5 287.8V293.7" stroke="#40e8ff"/><path d="M305.5 224.5V254.7" stroke="#b4ff4b"/><path d="M308.5 250V262.8" stroke="#b4ff4b"/><path d="M309.5 290.3V300.3" stroke="#00a0ff"/><path d="M311.5 245.7V255.2" stroke="#40ffb0"/><path d="M311.5 255.2V263.2" stroke="#80ff80"/><path d="M311.5 287.4V312.7" stroke="#0838ff"/><path d="M312.5 298.9V323.8" stroke="#0838ff"/><path d="M314.5 283.5V310" stroke="#00d4ff"/><path d="M314.5 310V326.2" stroke="#0838ff"/><path d="M316.5 259.2V281.6" stroke="#00d4ff"/><path d="M317.5 293.7V313.4" stroke="#0838ff"/><path d="M319.5 253.3V289" stroke="#00d4ff"/><path d="M323.5 311V315.4" stroke="#0000ff"/><path d="M324.5 286.7V310.6" stroke="#0838ff"/><path d="M326.5 299.1V316" stroke="#00008f"/><path d="M327.5 295.1V309" stroke="#0838ff"/><path d="M328.5 311.7V318" stroke="#0000c8"/><path d="M329.5 265.2V305.8" stroke="#0838ff"/><path d="M330.5 301.4V318.5" stroke="#00008f"/><path d="M331.5 292.9V302.5" stroke="#0000ff"/><path d="M332.5 302.9V311.5" stroke="#0000c8"/><path d="M340.5 263.9V300.5" stroke="#0838ff"/><path d="M343.5 296.9V300.5" stroke="#0000c8"/><path d="M344.5 283.3V290.9" stroke="#0838ff"/><path d="M352.5 263.8V296.3" stroke="#0838ff"/><path d="M353.5 264.5V300.4" stroke="#0000c8"/></g>
<path d="M52 323.6L340.6 388.8M340.6 388.8L521.4 288.2M45 323.6L52 323.6M45 288.9L52 288.9M45 254.2L52 254.2M45 219.5L52 219.5M45 184.8L52 184.8M45 150.1L52 150.1M45 115.4L52 115.4M52 323.6L45.2 327.3M124.2 339.9L117.4 343.6M196.3 356.2L189.5 359.9M268.5 372.5L261.7 376.2M340.6 388.8L333.8 392.5M340.6 388.8L348.1 389.4M400.9 355.3L408.4 355.9M461.1 321.7L468.6 322.3M521.4 288.2L528.9 288.8" fill="none" stroke="#000" stroke-width="1"/>
<g font-family="'Liberation Sans', Arial, sans-serif" font-size="14" fill="#111"><text x="33.2" y="327" textLength="7.2" lengthAdjust="spacingAndGlyphs">0</text><text x="33.2" y="292.3" textLength="7.2" lengthAdjust="spacingAndGlyphs">1</text><text x="33.2" y="257.6" textLength="7.2" lengthAdjust="spacingAndGlyphs">2</text><text x="33.2" y="222.9" textLength="7.2" lengthAdjust="spacingAndGlyphs">3</text><text x="33.2" y="188.2" textLength="7.2" lengthAdjust="spacingAndGlyphs">4</text><text x="33.2" y="153.5" textLength="7.2" lengthAdjust="spacingAndGlyphs">5</text><text x="33.2" y="118.8" textLength="7.2" lengthAdjust="spacingAndGlyphs">6</text><text x="34.5" y="344.4" textLength="7.2" lengthAdjust="spacingAndGlyphs">0</text><text x="91.5" y="359.4" textLength="21.5" lengthAdjust="spacingAndGlyphs">100</text><text x="164.7" y="376" textLength="21.5" lengthAdjust="spacingAndGlyphs">200</text><text x="235.9" y="392.6" textLength="21.5" lengthAdjust="spacingAndGlyphs">300</text><text x="307.4" y="408.9" textLength="21.5" lengthAdjust="spacingAndGlyphs">400</text><text x="351.3" y="406" textLength="14.3" lengthAdjust="spacingAndGlyphs">60</text><text x="411.3" y="372" textLength="14.3" lengthAdjust="spacingAndGlyphs">40</text><text x="473.5" y="338.4" textLength="14.3" lengthAdjust="spacingAndGlyphs">20</text><text x="533.2" y="303.8" textLength="7.2" lengthAdjust="spacingAndGlyphs">0</text><text x="115.6" y="408" text-anchor="start" textLength="93" lengthAdjust="spacingAndGlyphs">Phase position</text><text x="438.2" y="408.3" text-anchor="start" textLength="66" lengthAdjust="spacingAndGlyphs">Charge pC</text><text transform="translate(20.2 263.8) rotate(-90)" text-anchor="start" textLength="85.5" lengthAdjust="spacingAndGlyphs">Cycle number</text></g>
</svg></body></html>
